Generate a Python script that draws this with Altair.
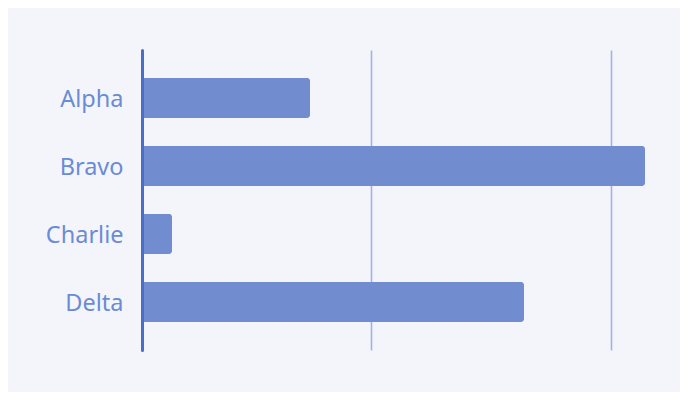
import altair as alt
import pandas as pd

categories = ["Alpha", "Bravo", "Charlie", "Delta"]
values = [168, 503, 30, 382]
grid_ticks = [229, 469]

df = pd.DataFrame({"category": categories, "value": values})

chart = alt.Chart(df).mark_bar(
    color="#718dcf", cornerRadiusEnd=3
).encode(
    x=alt.X("value:Q", scale=alt.Scale(domain=[0, 520], nice=False, zero=True),
            axis=alt.Axis(values=grid_ticks, labels=False, ticks=False, domain=False,
                          grid=True, gridColor="#9fb3e6", gridWidth=1.6, title=None)),
    y=alt.Y("category:N", sort=categories,
            scale=alt.Scale(paddingInner=0.41, paddingOuter=0.41),
            axis=alt.Axis(title=None, ticks=False, tickSize=0, labelPadding=19,
                          labelOffset=2,
                          labelFont="Noto Sans", labelFontSize=23.5, labelColor="#6a8bd6",
                          domainColor="#4a6ec8", domainWidth=3, domainCap="round",
                          grid=False, zindex=1)),
).properties(
    width=520, height=300,
    autosize=alt.AutoSizeParams(type="none"),
    padding={"left": 134, "top": 42, "right": 18, "bottom": 42},
    background="#f4f5fb",
).configure_view(stroke=None)

chart.save("out.html", embed_options={"renderer": "svg", "actions": False})
